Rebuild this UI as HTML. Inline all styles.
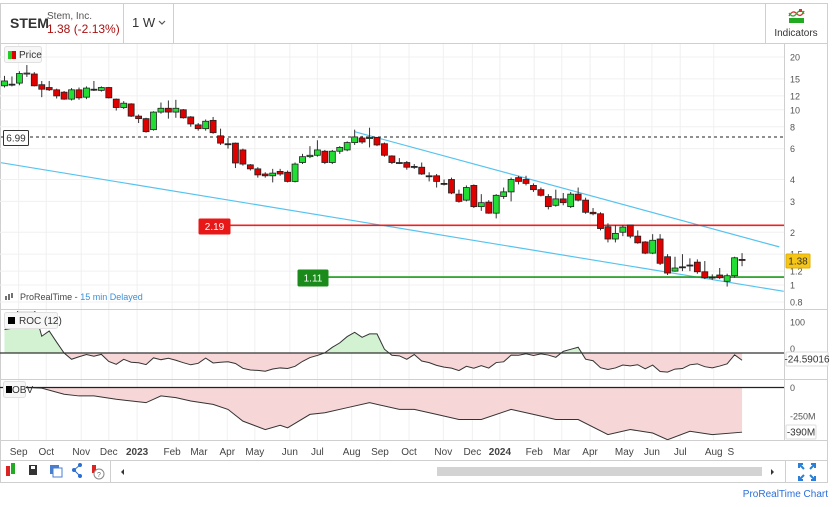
<!DOCTYPE html>
<html><head><meta charset="utf-8">
<style>
html,body{margin:0;padding:0;background:#fff;}
body{width:838px;height:502px;overflow:hidden;font-family:"Liberation Sans",Arial,sans-serif;}
svg text{font-family:"Liberation Sans",Arial,sans-serif;}
</style></head>
<body>
<svg id="chart" width="838" height="502" viewBox="0 0 838 502" xmlns="http://www.w3.org/2000/svg">
  <defs>
    <clipPath id="priceClip"><rect x="1" y="44" width="783" height="265"/></clipPath>
    <clipPath id="rocClip"><rect x="1" y="311" width="783" height="67"/></clipPath>
    <clipPath id="rocAbove"><rect x="1" y="311" width="783" height="42"/></clipPath>
    <clipPath id="rocBelow"><rect x="1" y="353" width="783" height="25"/></clipPath>
    <clipPath id="obvClip"><rect x="1" y="380" width="783" height="60"/></clipPath>
  </defs>
  <rect x="0.5" y="3.5" width="827" height="479" fill="#fff" stroke="#cfcfcf"/>
  <g id="header">
    <line x1="0" y1="43.5" x2="828" y2="43.5" stroke="#cfcfcf"/>
    <text x="10" y="28" font-size="14" font-weight="bold" fill="#333">STEM</text>
    <text x="47" y="19" font-size="10" fill="#555">Stem, Inc.</text>
    <text x="47" y="33" font-size="12" fill="#a11">1.38 (-2.13%)</text>
    <line x1="123.5" y1="3" x2="123.5" y2="43" stroke="#cfcfcf"/>
    <g>
      <text x="132" y="27" font-size="13" fill="#333">1 W</text>
      <path d="M159 21 l3 3 l3 -3" fill="none" stroke="#555" stroke-width="1.2"/>
    </g>
    <line x1="173.5" y1="3" x2="173.5" y2="43" stroke="#cfcfcf"/>
    <line x1="765.5" y1="3" x2="765.5" y2="43" stroke="#cfcfcf"/>
    <g>
      <rect x="789" y="18" width="15" height="5" fill="#2a2"/>
      <path d="M789 16 q4 -7 8 -2 q4 4 7 -3" fill="none" stroke="#d33" stroke-width="1.3"/>
      <path d="M789 13 q4 6 8 0 q4 -5 7 1" fill="none" stroke="#3a3" stroke-width="1.3"/>
      <rect x="799" y="9" width="3" height="3" fill="#d33"/>
      <text x="796" y="36" font-size="10" fill="#333" text-anchor="middle">Indicators</text>
    </g>
  </g>
  <g id="grid"></g>
  <line x1="784.5" y1="44" x2="784.5" y2="440" stroke="#cfcfcf"/>
  <line x1="0" y1="309.5" x2="828" y2="309.5" stroke="#cfcfcf"/>
  <line x1="0" y1="379.5" x2="828" y2="379.5" stroke="#cfcfcf"/>
  <line x1="0" y1="440.5" x2="828" y2="440.5" stroke="#cfcfcf"/>
  <line x1="0" y1="460.5" x2="828" y2="460.5" stroke="#cfcfcf"/>
  <g id="pricePanel" clip-path="url(#priceClip)"></g>
  <g id="rocPanel"></g>
  <g id="obvPanel"></g>
  <g id="axes"></g>
  <g id="overlay"></g>
  <!-- legends -->
  <g>
    <rect x="4.5" y="46.5" width="37" height="16" rx="2" fill="#f7f7f7" stroke="#e0e0e0"/>
    <rect x="8" y="51" width="4" height="8" fill="#2c2"/><rect x="12" y="51" width="4" height="8" fill="#d00"/>
    <text x="19" y="58" font-size="10" fill="#333">Price</text>
  </g>
  <g>
    <path d="M6 296v4M9 294v6M12 293v5" stroke="#444" stroke-width="1.5"/>
    <text x="20" y="300" font-size="9" fill="#444">ProRealTime - <tspan fill="#3a8fd8">15 min Delayed</tspan></text>
  </g>
  <g>
    <rect x="4.5" y="312.5" width="53" height="16" rx="2" fill="#f7f7f7" stroke="#e0e0e0"/>
    <rect x="8" y="317" width="7" height="7" fill="#000"/>
    <text x="19" y="324" font-size="10" fill="#333">ROC (12)</text>
  </g>
  <g>
    <rect x="3.5" y="381.5" width="22" height="16" rx="2" fill="#f7f7f7" stroke="#e0e0e0"/>
    <rect x="6" y="386" width="6" height="7" fill="#000"/>
    <text x="12" y="393" font-size="10" fill="#333">OBV</text>
  </g>
  <!-- toolbar -->
  <g>
    <g><rect x="6" y="466" width="4" height="10" fill="#d22"/><rect x="11" y="463" width="4" height="11" fill="#2a2"/></g>
    <g><rect x="29" y="465" width="8" height="10" fill="#333"/><rect x="31" y="466" width="4" height="3" fill="#fff"/></g>
    <g><rect x="50" y="465" width="9" height="9" fill="#4a7fd0"/><rect x="53" y="468" width="9" height="9" fill="#fff" stroke="#4a7fd0"/></g>
    <g><circle cx="74" cy="470" r="2" fill="#2a6fd0"/><circle cx="80" cy="465" r="2" fill="#2a6fd0"/><circle cx="80" cy="476" r="2" fill="#2a6fd0"/><path d="M74 470L80 465M74 470L80 476" stroke="#2a6fd0"/></g>
    <g><rect x="92" y="465" width="4" height="8" fill="#d22"/><circle cx="99" cy="474" r="5" fill="#fff" stroke="#888"/><text x="99" y="477" font-size="7" text-anchor="middle" fill="#666">?</text></g>
    <line x1="110.5" y1="461" x2="110.5" y2="482" stroke="#cfcfcf"/>
    <path d="M124 469l-3 3l3 3z" fill="#333"/>
    <rect x="437" y="467" width="325" height="9" fill="#d3d3d3"/>
    <path d="M771 469l3 3l-3 3z" fill="#333"/>
    <line x1="785.5" y1="461" x2="785.5" y2="482" stroke="#cfcfcf"/>
    <g stroke="#2a7fd8" stroke-width="2" fill="none">
      <path d="M799 468v-4h4M815 468v-4h-4M799 476v4h4M815 476v4h-4M800 465l4 4M814 465l-4 4M800 479l4-4M814 479l-4-4"/>
    </g>
  </g>
  <text x="828" y="497" font-size="10" fill="#2a6fd8" text-anchor="end">ProRealTime Chart</text>
</svg>
<script>
const openP  = [13.7,14.0,14.2,16.1,16.0,13.9,13.4,13.0,12.6,11.5,13.0,11.8,13.1,12.9,13.4,11.5,10.3,10.8,9.2,8.9,7.7,9.7,10.2,9.7,10.0,9.1,8.2,7.8,8.7,7.1,6.4,6.45,5.9,4.85,4.6,4.3,4.2,4.45,4.4,3.9,5.0,5.4,5.5,5.8,5.0,5.8,5.9,6.5,6.9,6.85,6.95,6.4,5.45,5.0,5.0,4.75,4.7,4.2,4.2,3.8,4.0,3.3,3.05,3.7,2.8,2.97,2.57,3.2,3.4,4.1,4.0,3.7,3.5,3.2,2.85,3.1,2.8,3.3,3.05,2.6,2.55,2.15,1.83,2.0,2.2,1.9,1.76,1.52,1.83,1.45,1.2,1.27,1.3,1.35,1.19,1.11,1.14,1.05,1.13,1.40];
const closeP = [14.6,14.0,16.1,16.2,13.7,13.1,13.0,12.0,11.5,13.0,11.7,13.3,13.1,13.4,11.7,10.3,10.9,9.2,8.9,7.5,9.7,10.2,9.7,10.2,9.0,8.3,7.8,8.6,7.4,6.45,6.4,4.97,4.9,4.6,4.25,4.2,4.35,4.3,3.9,4.9,5.4,5.5,5.9,5.0,5.8,6.1,6.5,7.0,6.55,6.95,6.3,5.5,5.0,5.0,4.7,4.75,4.3,4.2,3.9,3.8,3.35,3.0,3.6,2.8,2.95,2.57,3.25,3.4,4.0,3.9,3.8,3.5,3.25,2.8,3.1,2.95,3.3,3.05,2.6,2.55,2.1,1.83,1.97,2.14,1.9,1.74,1.52,1.8,1.33,1.17,1.25,1.27,1.3,1.19,1.1,1.11,1.1,1.13,1.43,1.38];
const highP  = [15.6,15.5,16.6,18.0,16.4,14.6,14.6,13.2,12.8,13.3,13.4,13.6,14.6,13.6,13.5,11.6,11.2,10.9,9.4,9.0,9.8,11.0,11.3,11.4,10.1,9.2,8.4,8.8,9.1,7.8,6.9,6.5,6.0,4.9,4.7,4.4,4.6,4.6,4.5,5.0,5.6,6.2,6.7,5.9,5.9,6.2,6.6,7.7,7.1,7.9,7.0,6.5,5.5,5.3,5.1,4.9,5.0,4.4,4.3,4.0,4.1,3.5,3.7,3.75,3.3,3.05,3.3,3.6,4.1,4.2,4.2,3.8,3.6,3.3,3.5,3.35,3.4,3.6,3.15,2.75,2.6,2.25,2.2,2.2,2.2,2.05,1.78,1.95,1.95,1.5,1.45,1.5,1.42,1.4,1.37,1.15,1.25,1.16,1.45,1.52];
const lowP   = [13.4,13.6,13.8,15.4,13.6,11.8,12.8,11.6,11.4,11.3,11.4,11.5,12.8,12.7,11.6,9.9,10.1,9.1,8.4,7.4,7.6,9.5,8.9,9.0,8.9,8.0,7.6,7.6,7.3,6.3,6.0,4.65,4.8,4.5,4.1,4.1,3.85,4.2,3.85,3.85,4.9,5.3,5.4,4.9,4.9,5.6,5.8,6.3,6.4,6.1,6.2,5.4,4.9,4.9,4.55,4.6,4.25,3.9,3.6,3.7,3.3,2.95,3.0,2.75,2.65,2.55,2.4,3.1,3.0,3.75,3.7,3.4,3.2,2.7,2.8,2.85,2.75,3.0,2.55,2.5,2.05,1.75,1.75,1.9,1.85,1.72,1.5,1.5,1.3,1.14,1.19,1.2,1.2,1.16,1.08,1.07,1.08,0.98,1.1,1.28];
const preCloses = [8.3,7.8,6.4,6.5,5.7,8.5,7.6,8.9,11.5,16.3,13.3,14.0];
const obvWeeks  = [3,5,8,10,12,15,19,21,23,25,28,30,32,35,37,38,41,43,46,49,53,55,58,61,64,68,71,74,77,81,84,87,89,92,95,99];
const obvValues = [0,-6,-59,-74,-74,-103,-133,-74,-89,-118,-148,-192,-295,-369,-331,-354,-236,-221,-177,-133,-192,-192,-236,-281,-281,-192,-236,-281,-281,-413,-369,-399,-458,-384,-413,-392];
const priceTicks = [20,15,12,10,8,6,4,3,2,1.5,1.2,1,0.8];
const rocTicks = [100,0];
const obvTicks = [0,-250];
const monthLabels = ["Sep","Oct","Nov","Dec","2023","Feb","Mar","Apr","May","Jun","Jul","Aug","Sep","Oct","Nov","Dec","2024","Feb","Mar","Apr","May","Jun","Jul","Aug","S"];
const monthWeeks  = [1.9,5.6,10.3,14,17.8,22.5,26.1,29.9,33.6,38.3,42,46.6,50.4,54.3,58.9,62.8,66.5,71.1,74.8,78.6,83.2,86.9,90.7,95.2,97.5];
const levels = [6.99,2.19,1.11];
const upperTrend = [[47,7.5],[104,1.65]];
const lowerTrend = [[-0.6,5.0],[104.6,0.92]];
const lastPrice = 1.38, lastRoc = -24.59016, lastObv = -390;

const NS="http://www.w3.org/2000/svg";
function mk(tag, attrs, parent){const e=document.createElementNS(NS,tag);for(const k in attrs)e.setAttribute(k,attrs[k]);parent.appendChild(e);return e;}
const xw = i => 4.5 + i*7.45;
const yP = p => 285 - 76.1*Math.log(p);
const yR = v => 353 - 0.31*v;
const yO = v => 387.5 + 0.114*(-v);

const grid=document.getElementById('grid');
monthWeeks.forEach((w,k)=>{ if(k===monthWeeks.length-1) return;
  const g=mk('line',{x1:xw(w),x2:xw(w),y1:44,y2:440,stroke:'#f0f0f0'},grid);
  
  
});
priceTicks.forEach(p=>{
  const g=mk('line',{x1:0,x2:784,y1:yP(p),y2:yP(p),stroke:'#f0f0f0'},grid);
  
  
});

const pp=document.getElementById('pricePanel');
// trend lines
[upperTrend,lowerTrend].forEach((t,k)=>{
  const l=mk('line',{x1:xw(t[0][0]),y1:yP(t[0][1]),x2:xw(t[1][0]),y2:yP(t[1][1]),stroke:'#55c3f0','stroke-width':1.2},pp);
  
  
});
// horizontal levels
const lv0=mk('line',{x1:0,x2:784,y1:yP(levels[0]),y2:yP(levels[0]),stroke:'#222','stroke-dasharray':'3,3'},pp);


const lv1=mk('line',{x1:199,x2:784,y1:yP(levels[1]),y2:yP(levels[1]),stroke:'#f02020','stroke-width':1.6},pp);


const lv2=mk('line',{x1:298,x2:784,y1:yP(levels[2]),y2:yP(levels[2]),stroke:'#1a9a1a','stroke-width':1.6},pp);



// candles
closeP.forEach((c,i)=>{
  const o=openP[i],h=highP[i],l=lowP[i],x=xw(i);
  const w=mk('line',{x1:x,x2:x,y1:yP(h),y2:yP(l),stroke:'#333','stroke-width':1},pp);
  
  
  const top=yP(Math.max(o,c)),bot=yP(Math.min(o,c));
  const hgt=Math.max(bot-top,1);
  const b=mk('rect',{x:x-3,y:top,width:6,height:hgt,fill: c>o?'#22dd33':(c<o?'#e00000':'#333'),stroke:'#222','stroke-width':0.8},pp);
  
  
});

// level labels
const ov=document.getElementById('overlay');
function box(x,y,w,h,fill,stroke,txt,tcol,name){
  const g=mk('g',{},ov);
  
  
  mk('rect',{x:x,y:y,width:w,height:h,fill:fill,stroke:stroke,rx:1},g);
  const t=mk('text',{x:x+w/2,y:y+h/2+3.5,'font-size':10,fill:tcol,'text-anchor':'middle'},g);
  t.textContent=txt;
  return g;
}
box(3.5,130.5,25,15,'#fff','#333',levels[0].toFixed(2),'#333','level-label-6-99');
box(199,219,31,15,'#e81818','#e81818',levels[1].toFixed(2),'#fff','level-label-2-19');
box(298,270,30,16,'#1a8a1a','#1a8a1a',levels[2].toFixed(2),'#fff','level-label-1-11');
box(786,254,24,14,'#f5c518','#e0b000',lastPrice.toFixed(2),'#333','last-price-label');
box(786,352,42,14,'#fff','#ddd',lastRoc.toFixed(5),'#333','roc-value-label');
box(786,425,30,14,'#fff','#ddd',lastObv+'M','#333','obv-value-label');

// axes labels
const ax=document.getElementById('axes');
priceTicks.forEach(p=>{
  const t=mk('text',{x:790,y:yP(p)+3.5,'font-size':9,fill:'#555'},ax);
  t.textContent=String(p);
  
  
});
rocTicks.forEach(v=>{
  const t=mk('text',{x:790,y:yR(v)+(v===0?-1:3.5),'font-size':9,fill:'#555'},ax);
  t.textContent=String(v);
  
  
});
obvTicks.forEach(v=>{
  const t=mk('text',{x:790,y:yO(v)+3.5,'font-size':9,fill:'#555'},ax);
  t.textContent=v===0?'0':v+'M';
  
  
});
monthLabels.forEach((m,k)=>{
  const t=mk('text',{x:xw(monthWeeks[k]),y:455,'font-size':10,fill:'#444','text-anchor':'middle','font-weight':(m.length===4&&m[0]==='2')?'bold':'normal'},ax);
  t.textContent=m;
  
  
});

// ROC
const rp=document.getElementById('rocPanel');
const allC=preCloses.concat(closeP);
const roc=closeP.map((c,i)=>(c-allC[i])/allC[i]*100);
let pts=roc.map((v,i)=>xw(i)+','+yR(v));
const areaD='M'+xw(0)+','+yR(0)+' L'+pts.join(' L')+' L'+xw(roc.length-1)+','+yR(0)+' Z';
const rg=mk('g',{'clip-path':'url(#rocClip)'},rp);
const a1=mk('path',{d:areaD,fill:'#d2f2d2','clip-path':'url(#rocAbove)'},rg);


const a2=mk('path',{d:areaD,fill:'#f6d6d6','clip-path':'url(#rocBelow)'},rg);


const zl=mk('line',{x1:0,x2:784,y1:yR(0),y2:yR(0),stroke:'#333','stroke-width':1.2},rp);


const rl=mk('polyline',{points:pts.join(' '),fill:'none',stroke:'#333','stroke-width':1},rg);



// OBV
const op=document.getElementById('obvPanel');
const og=mk('g',{'clip-path':'url(#obvClip)'},op);
const opts=obvWeeks.map((w,k)=>xw(w)+','+yO(obvValues[k]));
const oa=mk('path',{d:'M'+xw(obvWeeks[0])+','+yO(0)+' L'+opts.join(' L')+' L'+xw(obvWeeks[obvWeeks.length-1])+','+yO(0)+' Z',fill:'#f6d6d6'},og);


const oz=mk('line',{x1:0,x2:784,y1:yO(0),y2:yO(0),stroke:'#222','stroke-width':1.3},op);


const ol=mk('polyline',{points:opts.join(' '),fill:'none',stroke:'#333','stroke-width':1},og);


</script>
</body></html>
